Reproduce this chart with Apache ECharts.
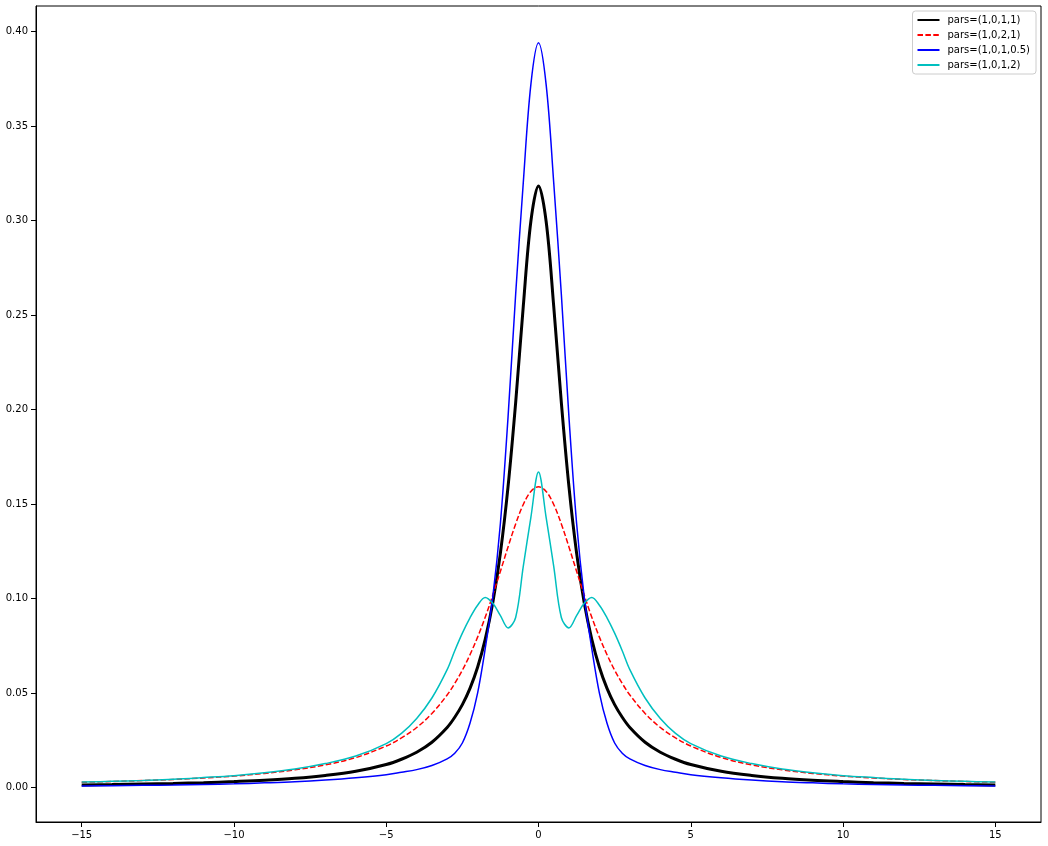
<!DOCTYPE html>
<html>
<head>
<meta charset="utf-8">
<script src="https://cdn.jsdelivr.net/npm/echarts@6/dist/echarts.min.js"></script>
<style>
html,body{margin:0;padding:0;background:#fff;}
#chart{width:1048px;height:846px;}
</style>
</head>
<body>
<div id="chart"></div>
<script>
// ---- data ----
const xValues = [-15,-14,-13,-12,-11,-10,-9,-8,-7,-6,-5,-4.5,-4,-3.5,-3,-2.75,-2.5,-2.25,-2,-1.75,-1.5,-1.25,-1,-0.75,-0.5,-0.25,0,0.25,0.5,0.75,1,1.25,1.5,1.75,2,2.25,2.5,2.75,3,3.5,4,4.5,5,6,7,8,9,10,11,12,13,14,15];

const seriesNames = ["pars=(1,0,1,1)", "pars=(1,0,2,1)", "pars=(1,0,1,0.5)", "pars=(1,0,1,2)"];

const blackValues = [0.0014,0.0016,0.0019,0.0022,0.0026,0.0032,0.0039,0.0049,0.0064,0.0086,0.0122,0.0150,0.0187,0.0240,0.0318,0.0372,0.0439,0.0525,0.0637,0.0784,0.0979,0.1242,0.1592,0.2037,0.2546,0.2996,0.3183,0.2996,0.2546,0.2037,0.1592,0.1242,0.0979,0.0784,0.0637,0.0525,0.0439,0.0372,0.0318,0.0240,0.0187,0.0150,0.0122,0.0086,0.0064,0.0049,0.0039,0.0032,0.0026,0.0022,0.0019,0.0016,0.0014];

const redValues = [0.0028,0.0032,0.0037,0.0043,0.0051,0.0061,0.0075,0.0094,0.0120,0.0159,0.0220,0.0263,0.0318,0.0392,0.0490,0.0551,0.0621,0.0703,0.0796,0.0901,0.1019,0.1145,0.1273,0.1395,0.1498,0.1567,0.1592,0.1567,0.1498,0.1395,0.1273,0.1145,0.1019,0.0901,0.0796,0.0703,0.0621,0.0551,0.0490,0.0392,0.0318,0.0263,0.0220,0.0159,0.0120,0.0094,0.0075,0.0061,0.0051,0.0043,0.0037,0.0032,0.0028];

const blueValues = [0.0009,0.0010,0.0012,0.0014,0.0017,0.0020,0.0025,0.0031,0.0040,0.0052,0.0068,0.0081,0.0095,0.0117,0.0152,0.0182,0.0236,0.0340,0.0500,0.0735,0.101,0.140,0.196,0.261,0.320,0.372,0.394,0.372,0.320,0.261,0.196,0.140,0.101,0.0735,0.0500,0.0340,0.0236,0.0182,0.0152,0.0117,0.0095,0.0081,0.0068,0.0052,0.0040,0.0031,0.0025,0.0020,0.0017,0.0014,0.0012,0.0010,0.0009];

const cyanValues = [0.0029,0.0033,0.0038,0.0044,0.0053,0.0063,0.0078,0.0098,0.0127,0.0167,0.0233,0.0287,0.0366,0.0474,0.0624,0.0724,0.0817,0.0898,0.0965,0.1006,0.0975,0.0910,0.0845,0.0900,0.117,0.143,0.167,0.143,0.117,0.0900,0.0845,0.0910,0.0975,0.1006,0.0965,0.0898,0.0817,0.0724,0.0624,0.0474,0.0366,0.0287,0.0233,0.0167,0.0127,0.0098,0.0078,0.0063,0.0053,0.0044,0.0038,0.0033,0.0029];

const xTicks = [-15,-10,-5,0,5,10,15];
const yTicks = [0,0.05,0.10,0.15,0.20,0.25,0.30,0.35,0.40];

// ---- chart ----
const pairs = ys => xValues.map((x, i) => [x, ys[i]]);
const FONT = 'DejaVu Sans';

const chart = echarts.init(document.getElementById('chart'), null, {renderer: 'canvas'});

function lineSeries(name, ys, color, width, type) {
  return {
    name: name,
    type: 'line',
    data: pairs(ys),
    showSymbol: false,
    symbol: 'none',
    smooth: 0.35,
    animation: false,
    itemStyle: {color: color},
    lineStyle: {color: color, width: width, type: type || 'solid'}
  };
}

chart.setOption({
  backgroundColor: '#ffffff',
  animation: false,
  grid: {left: 36, right: 7, top: 6, bottom: 24, show: true, borderColor: '#000', borderWidth: 1, backgroundColor: 'transparent'},
  legend: {
    orient: 'vertical',
    right: 12,
    top: 11,
    padding: [4, 6, 4, 4],
    itemGap: 5,
    itemWidth: 22,
    itemHeight: 10,
    borderColor: '#cccccc',
    borderWidth: 1,
    borderRadius: 3,
    backgroundColor: 'rgba(255,255,255,0.8)',
    itemStyle: {opacity: 0},
    textStyle: {fontFamily: FONT, fontSize: 10, color: '#000', padding: [0, 0, 0, 3]},
    data: seriesNames
  },
  xAxis: {
    type: 'value',
    min: -16.5,
    max: 16.5,
    axisLine: {show: true, onZero: false, lineStyle: {color: '#000', width: 1}},
    axisTick: {show: true, inside: false, length: 5, customValues: xTicks, lineStyle: {color: '#000'}},
    axisLabel: {show: true, customValues: xTicks, margin: 8, fontFamily: FONT, fontSize: 10, color: '#000',
      formatter: v => String(v).replace('-', '\u2212')},
    splitLine: {show: false}
  },
  yAxis: {
    type: 'value',
    min: -0.0182,
    max: 0.4135,
    axisLine: {show: true, onZero: false, lineStyle: {color: '#000', width: 1}},
    axisTick: {show: true, inside: false, length: 5, customValues: yTicks, lineStyle: {color: '#000'}},
    axisLabel: {show: true, customValues: yTicks, margin: 8, fontFamily: FONT, fontSize: 10, color: '#000',
      formatter: v => v.toFixed(2)},
    splitLine: {show: false}
  },
  series: [
    lineSeries(seriesNames[0], blackValues, '#000000', 3),
    lineSeries(seriesNames[1], redValues, '#ff0000', 1.5, [5.5, 2.4]),
    lineSeries(seriesNames[2], blueValues, '#0000ff', 1.5),
    lineSeries(seriesNames[3], cyanValues, '#00bfbf', 1.5)
  ]
});
</script>
</body>
</html>
